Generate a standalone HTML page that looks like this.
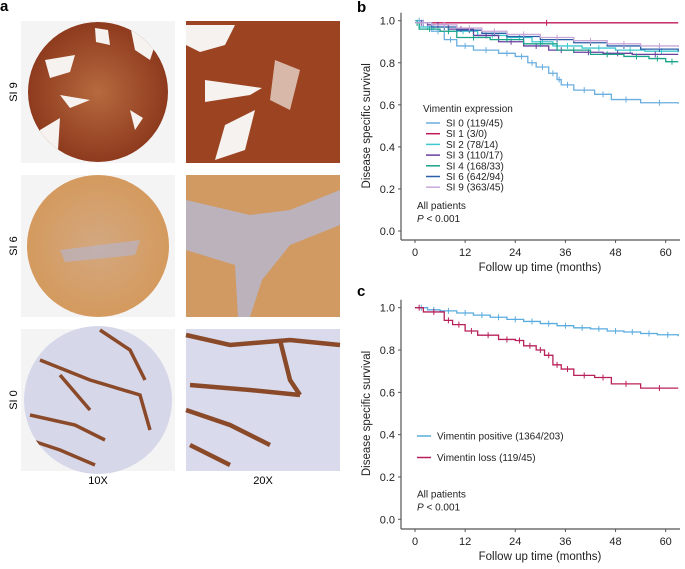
<!DOCTYPE html>
<html><head><meta charset="utf-8">
<style>
body{margin:0;background:#fff;width:685px;height:564px;overflow:hidden;font-family:"Liberation Sans",sans-serif;}
svg text{font-family:"Liberation Sans",sans-serif;}
</style></head>
<body>
<svg id="fig" width="685" height="564" viewBox="0 0 685 564" xmlns="http://www.w3.org/2000/svg">
<defs>
 <radialGradient id="g9" cx="50%" cy="50%" r="50%"><stop offset="0" stop-color="#b66a3e"/><stop offset="1" stop-color="#8e3a1e"/></radialGradient>
 <radialGradient id="g6" cx="50%" cy="50%" r="50%"><stop offset="0" stop-color="#d3a880"/><stop offset="1" stop-color="#d49a5e"/></radialGradient>
 <clipPath id="c1"><circle cx="98" cy="92" r="70"/></clipPath>
 <clipPath id="c3"><circle cx="98" cy="400" r="74"/></clipPath>
</defs>
<g>
 <text x="0" y="11" font-size="15" font-weight="bold">a</text>
 <rect x="21" y="21" width="154" height="142" fill="#f4f4f4"/>
 <circle cx="98" cy="92" r="70" fill="url(#g9)"/>
 <g clip-path="url(#c1)" fill="#f6f2f0">
  <path d="M45 60 L75 55 L70 72 L50 78Z"/><path d="M95 28 L108 30 L110 45 L96 42Z"/>
  <path d="M60 95 L90 100 L70 108Z"/><path d="M40 130 L60 118 L58 150 L40 160Z"/>
  <path d="M130 25 L160 30 L150 60 L135 50Z"/><path d="M130 110 L143 118 L135 130Z"/>
 </g>
 <rect x="186" y="21" width="154" height="142" fill="#9c4422"/>
 <g fill="#f6f2f0"><path d="M186 25 L235 25 L225 45 L200 52 L186 45Z"/><path d="M205 80 L262 88 L250 95 L205 102Z"/><path d="M225 125 L255 110 L245 150 L215 160Z"/><path d="M275 60 L300 70 L290 110 L270 100Z" fill="#d8b8a8"/></g>
 <rect x="21" y="175" width="154" height="142" fill="#f4f4f4"/>
 <circle cx="98" cy="246" r="71" fill="url(#g6)"/>
 <path d="M60 250 L140 240 L135 255 L65 262Z" fill="#b9b3c4" opacity="0.7"/>
 <rect x="186" y="175" width="154" height="142" fill="#d09a62"/>
 <path d="M186 200 L250 215 L290 210 L340 190 L340 225 L290 245 L262 280 L250 317 L238 317 L235 265 L186 250Z" fill="#b8b6cc" opacity="0.85"/>
 <rect x="21" y="329" width="154" height="142" fill="#f4f4f4"/>
 <circle cx="98" cy="400" r="74" fill="#d6d8ea"/>
 <g clip-path="url(#c3)" stroke="#8a4a2a" stroke-width="3.5" fill="none">
  <path d="M40 360 L90 380 L140 395 L150 430"/><path d="M100 330 L130 350 L145 380"/><path d="M30 415 L75 425 L105 440"/><path d="M30 440 L60 450 L95 465"/><path d="M60 375 L90 410"/>
 </g>
 <rect x="186" y="329" width="154" height="142" fill="#d9dbec"/>
 <g stroke="#8a4a2a" stroke-width="4.5" fill="none"><path d="M186 335 L230 345 L290 340 L340 345"/><path d="M190 385 L250 390 L300 395"/><path d="M186 410 L230 425 L270 445"/><path d="M190 445 L230 465"/><path d="M280 340 L290 380 L300 395"/></g>
 <text transform="translate(17,92) rotate(-90)" text-anchor="middle" font-size="11">SI 9</text>
 <text transform="translate(17,246) rotate(-90)" text-anchor="middle" font-size="11">SI 6</text>
 <text transform="translate(17,400) rotate(-90)" text-anchor="middle" font-size="11">SI 0</text>
 <text x="98" y="484" text-anchor="middle" font-size="11">10X</text>
 <text x="263" y="484" text-anchor="middle" font-size="11">20X</text>
</g>
<g id="pb"></g>
<g id="pc"></g>
</svg>
<script>
const xTicks=[0,12,24,36,48,60];
const yTicks=[0,0.2,0.4,0.6,0.8,1.0];
const bNames=["SI 0 (119/45)","SI 1 (3/0)","SI 2 (78/14)","SI 3 (110/17)","SI 4 (168/33)","SI 6 (642/94)","SI 9 (363/45)"];
const bColors=["#6aaee0","#c0185a","#3fc8d0","#6a3fa0","#1aa38a","#2a5fa8","#c9a8d8"];
const si0T=[0,2,4,7,10,14,20,24,27,29,32,34,35,38,43,47,54,63];
const si0S=[1,0.97,0.95,0.91,0.88,0.86,0.845,0.83,0.8,0.78,0.75,0.72,0.695,0.67,0.65,0.625,0.61,0.605];
const si1T=[0,63];const si1S=[0.99,0.99];
const si2T=[0,1,8,15,22,28,33,40,48,55,63];
const si2S=[0.99,0.97,0.95,0.93,0.92,0.9,0.88,0.87,0.86,0.855,0.85];
const si3T=[0,3,8,14,20,26,32,38,45,52,63];
const si3S=[0.99,0.98,0.96,0.93,0.9,0.88,0.86,0.85,0.845,0.84,0.84];
const si4T=[0,1,6,10,18,26,34,42,50,56,60,63];
const si4S=[0.99,0.96,0.95,0.92,0.91,0.89,0.86,0.84,0.83,0.82,0.805,0.805];
const si6T=[0,4,10,16,22,30,38,46,54,63];
const si6S=[0.99,0.97,0.955,0.94,0.925,0.91,0.895,0.88,0.865,0.855];
const si9T=[0,4,10,16,22,30,38,46,54,63];
const si9S=[0.99,0.98,0.965,0.95,0.935,0.92,0.905,0.89,0.88,0.875];
const bT=[si0T,si1T,si2T,si3T,si4T,si6T,si9T];
const bS=[si0S,si1S,si2S,si3S,si4S,si6S,si9S];
const cNames=["Vimentin positive (1364/203)","Vimentin loss (119/45)"];
const cColors=["#5aacdf","#b8205a"];
const posT=[0,3,6,10,14,18,22,26,30,34,38,42,46,50,54,58,63];
const posS=[1,0.99,0.985,0.975,0.965,0.955,0.945,0.935,0.925,0.915,0.905,0.9,0.89,0.885,0.878,0.872,0.865];
const lossT=[0,2,7,9,12,15,20,24,26,29,31,33,35,38,43,47,54,63];
const lossS=[1,0.98,0.94,0.92,0.89,0.87,0.85,0.845,0.82,0.8,0.775,0.73,0.71,0.68,0.67,0.64,0.62,0.62];
const cT=[posT,lossT];const cS=[posS,lossS];
const NS="http://www.w3.org/2000/svg";
function mk(p,tag,at){const e=document.createElementNS(NS,tag);for(const k in at)e.setAttribute(k,at[k]);p.appendChild(e);return e;}
function panel(g,y0,y1,axB,ttlY,label,T,S,cols){
 const xs=t=>415+t*(665.7-415)/60, ys=v=>y0+v*(y1-y0);
 let t=mk(g,"text",{x:357,y:ttlY,"font-size":15,"font-weight":"bold"});t.textContent=label;
 
 
 mk(g,"line",{x1:401,y1:ys(1)-8,x2:401,y2:axB,stroke:"#555","stroke-width":1.2});
 mk(g,"line",{x1:401,y1:axB,x2:680,y2:axB,stroke:"#555","stroke-width":1.2});
 yTicks.forEach(v=>{mk(g,"line",{x1:398,x2:401,y1:ys(v),y2:ys(v),stroke:"#555"});
  const e=mk(g,"text",{x:395,y:ys(v)+4,"text-anchor":"end","font-size":11,fill:"#222"});e.textContent=v.toFixed(1);
  
  });
 xTicks.forEach(v=>{mk(g,"line",{x1:xs(v),x2:xs(v),y1:axB,y2:axB+3,stroke:"#555"});
  const e=mk(g,"text",{x:xs(v),y:axB+16,"text-anchor":"middle","font-size":11,fill:"#222"});e.textContent=v;
  
  });
 let e=mk(g,"text",{x:540,y:axB+31,"text-anchor":"middle","font-size":11.5,fill:"#222"});e.textContent="Follow up time (months)";
 
 
 e=mk(g,"text",{transform:`translate(370,${(ys(0)+ys(1))/2}) rotate(-90)`,"text-anchor":"middle","font-size":11.5,fill:"#222"});e.textContent="Disease specific survival";
 
 
 T.forEach((tt,i)=>{let d=`M${xs(tt[0])},${ys(S[i][0])}`;
  for(let k=1;k<tt.length;k++){d+=`H${xs(tt[k])}V${ys(S[i][k])}`;}
  const p=mk(g,"path",{d:d,fill:"none",stroke:cols[i],"stroke-width":1.3});
  
  
  for(let k=1;k<tt.length;k++){const cx=(xs(tt[k-1])+xs(tt[k]))/2,cy=ys(S[i][k-1]);
   mk(g,"line",{x1:cx,x2:cx,y1:cy-3,y2:cy+3,stroke:cols[i],"stroke-width":1});}
 });
 const a=mk(g,"text",{x:417,y:ys(0)-22,"font-size":10,fill:"#222"});a.textContent="All patients";
 
 
 const pv=mk(g,"text",{x:417,y:ys(0)-9,"font-size":10,fill:"#222"});pv.innerHTML='<tspan font-style="italic">P</tspan> &lt; 0.001';
 
 
 return {xs,ys};
}
const gb=document.getElementById("pb"),gc=document.getElementById("pc");
panel(gb,231,20.7,240,12,"b",bT,bS,bColors);
panel(gc,519.3,307.7,529,296,"c",cT,cS,cColors);
let h=mk(gb,"text",{x:423,y:112,"font-size":10,fill:"#222"});h.textContent="Vimentin expression";


bNames.forEach((n,i)=>{const y=123+i*10.7;
 mk(gb,"line",{x1:426,x2:440,y1:y,y2:y,stroke:bColors[i],"stroke-width":1.5});
 const e=mk(gb,"text",{x:446,y:y+3.5,"font-size":10,fill:"#222"});e.textContent=n;
 
 });
cNames.forEach((n,i)=>{const y=436+i*21.5;
 mk(gc,"line",{x1:417,x2:431,y1:y,y2:y,stroke:cColors[i],"stroke-width":1.5});
 const e=mk(gc,"text",{x:437,y:y+3.5,"font-size":10,fill:"#222"});e.textContent=n;
 
 });
</script>
</body></html>
